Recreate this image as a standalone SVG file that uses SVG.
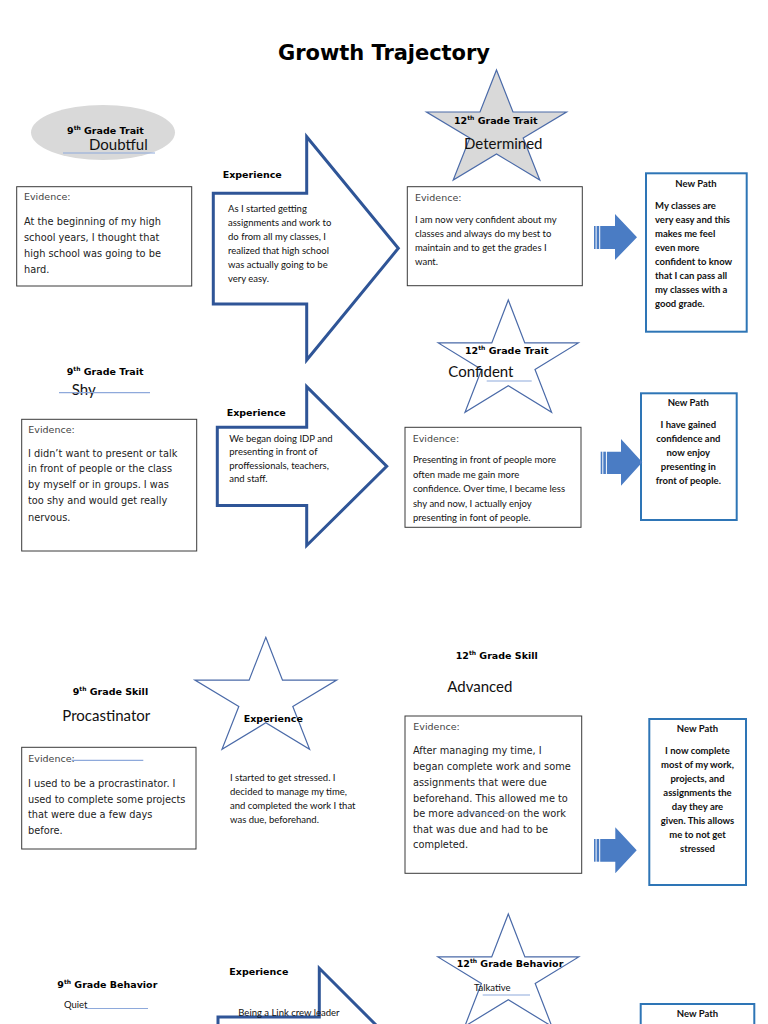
<svg xmlns="http://www.w3.org/2000/svg" width="768" height="1024" viewBox="0 0 768 1024">
<style>
.ev{fill:#fff;stroke:#3a3a3a;stroke-width:1}
.np{fill:#fff;stroke:#2e75b6;stroke-width:2}
.big{fill:#fff;stroke:#2f5597;stroke-width:3;stroke-linejoin:miter}
.star{fill:#fff;stroke:#4a6aa8;stroke-width:1.2;stroke-linejoin:miter}
.sm{fill:#4a7cc4}
.ul{stroke:#8ea9db;stroke-width:1.2;fill:none}
.comic{font-family:"DejaVu Sans",sans-serif;font-size:9.8px;fill:#222}
.evl{font-family:"DejaVu Sans",sans-serif;font-size:9.5px;fill:#444}
.cal{font-family:Lato,"Open Sans",sans-serif;font-size:9.5px;fill:#111}
.calb{font-family:Lato,"Open Sans",sans-serif;font-size:9.5px;font-weight:bold;fill:#111}
.lbl{font-family:"DejaVu Sans",sans-serif;font-size:9.5px;font-weight:bold;fill:#000}
.name{font-family:Lato,"Open Sans",sans-serif;font-size:15px;fill:#111}
.mid{text-anchor:middle}
</style>

<text x="384" y="60" text-anchor="middle" textLength="212" style="font-family:'DejaVu Sans',sans-serif;font-size:21px;font-weight:bold;fill:#000">Growth Trajectory</text>

<!-- Row 1 -->
<g id="trait9-doubtful">
  <ellipse cx="103" cy="132.5" rx="72" ry="27.5" fill="#d9d9d9"/>
  <text class="lbl" x="67" y="134">9<tspan font-size="6" dy="-4">th</tspan><tspan dy="4"> Grade Trait</tspan></text>
  <text class="name" x="89" y="150">Doubtful</text>
  <line class="ul" x1="63" y1="153" x2="155" y2="153"/>
</g>
<g id="evidence-doubtful">
  <rect class="ev" x="16.7" y="186.7" width="175" height="99.3"/>
  <text class="evl" x="24" y="200">Evidence:</text>
  <text class="comic" x="24" y="225">At the beginning of my high</text>
  <text class="comic" x="24" y="240.7">school years, I thought that</text>
  <text class="comic" x="24" y="256.7">high school was going to be</text>
  <text class="comic" x="24" y="272.7">hard.</text>
</g>
<g id="experience-1">
  <path class="big" d="M213.3,193.3 H306.7 V136.7 L398.3,248.3 L306.7,360 V304 H213.3 Z"/>
  <text class="lbl" x="222.7" y="178">Experience</text>
  <text class="cal" x="228" y="211.7">As I started getting</text>
  <text class="cal" x="228" y="225.7">assignments and work to</text>
  <text class="cal" x="228" y="239.7">do from all my classes, I</text>
  <text class="cal" x="228" y="253.7">realized that high school</text>
  <text class="cal" x="228" y="267.7">was actually going to be</text>
  <text class="cal" x="228" y="281.7">very easy.</text>
</g>
<g id="trait12-determined">
  <polygon class="star" style="fill:#d9d9d9" points="496.5,70 513,112 566.5,112 523.2,138 539.8,180 496.5,154 453.2,180 469.8,138 426.5,112 480,112"/>
  <text class="lbl" x="454" y="124">12<tspan font-size="6" dy="-4">th</tspan><tspan dy="4"> Grade Trait</tspan></text>
  <text class="name" x="464" y="149.3">Determined</text>
</g>
<g id="evidence-determined">
  <rect class="ev" x="407.3" y="186.7" width="175" height="99"/>
  <text class="evl" x="415" y="200.7">Evidence:</text>
  <text class="cal" x="415" y="223.3">I am now very confident about my</text>
  <text class="cal" x="415" y="237.3">classes and always do my best to</text>
  <text class="cal" x="415" y="251.3">maintain and to get the grades I</text>
  <text class="cal" x="415" y="265.3">want.</text>
</g>
<g id="newpath-1">
  <rect class="np" x="646" y="173.3" width="100.7" height="158.4"/>
  <text class="calb mid" x="696" y="186.7">New Path</text>
  <text class="calb" x="655" y="209">My classes are</text>
  <text class="calb" x="655" y="223">very easy and this</text>
  <text class="calb" x="655" y="237">makes me feel</text>
  <text class="calb" x="655" y="251">even more</text>
  <text class="calb" x="655" y="265">confident to know</text>
  <text class="calb" x="655" y="279">that I can pass all</text>
  <text class="calb" x="655" y="293">my classes with a</text>
  <text class="calb" x="655" y="307">good grade.</text>
</g>

<!-- Row 2 -->
<g id="trait9-shy">
  <text class="lbl" x="66.7" y="375">9<tspan font-size="6" dy="-4">th</tspan><tspan dy="4"> Grade Trait</tspan></text>
  <text class="name" x="71.7" y="395">Shy</text>
  <line class="ul" x1="59" y1="392.7" x2="150" y2="392.7"/>
</g>
<g id="evidence-shy">
  <rect class="ev" x="21.7" y="419.3" width="175" height="131.7"/>
  <text class="evl" x="28.3" y="433.3">Evidence:</text>
  <text class="comic" x="28" y="456.7">I didn’t want to present or talk</text>
  <text class="comic" x="28" y="472.3">in front of people or the class</text>
  <text class="comic" x="28" y="487.7">by myself or in groups. I was</text>
  <text class="comic" x="28" y="504.3">too shy and would get really</text>
  <text class="comic" x="28" y="521">nervous.</text>
</g>
<g id="experience-2">
  <path class="big" d="M217.3,427.3 H306.7 V386.7 L386.7,466.3 L306.7,545.5 V505.5 H217.3 Z"/>
  <text class="lbl" x="226.7" y="416">Experience</text>
  <text class="cal" x="229.3" y="441.7">We began doing IDP and</text>
  <text class="cal" x="229.3" y="455">presenting in front of</text>
  <text class="cal" x="229.3" y="468.7">proffessionals, teachers,</text>
  <text class="cal" x="229.3" y="482.3">and staff.</text>
</g>
<g id="trait12-confident">
  <polygon class="star" points="508.3,300 524.8,342.9 578.3,342.9 535,369.4 551.6,412.3 508.3,385.8 465,412.3 481.6,369.4 438.3,342.9 491.8,342.9"/>
  <text class="lbl" x="465" y="354.3">12<tspan font-size="6" dy="-4">th</tspan><tspan dy="4"> Grade Trait</tspan></text>
  <text class="name" x="448.3" y="376.7">Confident</text>
  <line class="ul" x1="486.7" y1="381" x2="531.7" y2="381"/>
</g>
<g id="evidence-confident">
  <rect class="ev" x="405" y="427.3" width="176" height="100"/>
  <text class="evl" x="412.7" y="441.7">Evidence:</text>
  <text class="cal" x="413" y="463.3">Presenting in front of people more</text>
  <text class="cal" x="413" y="478.3">often made me gain more</text>
  <text class="cal" x="413" y="492.3">confidence. Over time, I became less</text>
  <text class="cal" x="413" y="507">shy and now, I actually enjoy</text>
  <text class="cal" x="413" y="521">presenting in font of people.</text>
</g>
<g id="newpath-2">
  <rect class="np" x="641" y="393.3" width="95.7" height="126.7"/>
  <text class="calb mid" x="688.3" y="406">New Path</text>
  <text class="calb mid" x="688.3" y="428.3">I have gained</text>
  <text class="calb mid" x="688.3" y="441.7">confidence and</text>
  <text class="calb mid" x="688.3" y="455.7">now enjoy</text>
  <text class="calb mid" x="688.3" y="469.7">presenting in</text>
  <text class="calb mid" x="688.3" y="483.7">front of people.</text>
</g>

<!-- Row 3 -->
<g id="skill9-procastinator">
  <text class="lbl" x="72.7" y="695">9<tspan font-size="6" dy="-4">th</tspan><tspan dy="4"> Grade Skill</tspan></text>
  <text class="name" x="62.3" y="720.7">Procastinator</text>
</g>
<g id="evidence-procastinator">
  <rect class="ev" x="21.7" y="747.3" width="174.3" height="101.7"/>
  <text class="evl" x="28.3" y="762.3">Evidence:</text>
  <line class="ul" x1="71.7" y1="760.3" x2="143.3" y2="760.3"/>
  <text class="comic" x="28" y="786.7">I used to be a procrastinator. I</text>
  <text class="comic" x="28" y="802.7">used to complete some projects</text>
  <text class="comic" x="28" y="817.7">that were due a few days</text>
  <text class="comic" x="28" y="834">before.</text>
</g>
<g id="experience-3">
  <polygon class="star" points="265.8,637.3 282.5,680.1 336.7,680.1 292.8,706.5 309.6,749.3 265.8,722.8 222,749.3 238.8,706.5 194.9,680.1 249.1,680.1"/>
  <text class="lbl mid" x="273.3" y="721.7">Experience</text>
  <text class="cal" x="230" y="781">I started to get stressed. I</text>
  <text class="cal" x="230" y="795">decided to manage my time,</text>
  <text class="cal" x="230" y="809">and completed the work I that</text>
  <text class="cal" x="230" y="823">was due, beforehand.</text>
</g>
<g id="skill12-advanced">
  <text class="lbl" x="455.7" y="659">12<tspan font-size="6" dy="-4">th</tspan><tspan dy="4"> Grade Skill</tspan></text>
  <text class="name" x="447.3" y="691.7">Advanced</text>
</g>
<g id="evidence-advanced">
  <rect class="ev" x="405" y="716" width="176.7" height="157.3"/>
  <text class="evl" x="413.3" y="730">Evidence:</text>
  <text class="comic" x="413" y="754">After managing my time, I</text>
  <text class="comic" x="413" y="770">began complete work and some</text>
  <text class="comic" x="413" y="785.7">assignments that were due</text>
  <text class="comic" x="413" y="801.7">beforehand. This allowed me to</text>
  <text class="comic" x="413" y="817.3">be more advanced on the work</text>
  <line class="ul" x1="456.7" y1="813.3" x2="513" y2="813.3" style="stroke-width:0.8"/>
  <text class="comic" x="413" y="833.3">that was due and had to be</text>
  <text class="comic" x="413" y="848.3">completed.</text>
</g>
<g id="newpath-3">
  <rect class="np" x="649.3" y="719" width="96.7" height="166"/>
  <text class="calb mid" x="697.5" y="731.7">New Path</text>
  <text class="calb mid" x="697.5" y="754.3">I now complete</text>
  <text class="calb mid" x="697.5" y="768.3">most of my work,</text>
  <text class="calb mid" x="697.5" y="782.3">projects, and</text>
  <text class="calb mid" x="697.5" y="796">assignments the</text>
  <text class="calb mid" x="697.5" y="810">day they are</text>
  <text class="calb mid" x="697.5" y="824.3">given. This allows</text>
  <text class="calb mid" x="697.5" y="838.3">me to not get</text>
  <text class="calb mid" x="697.5" y="852.3">stressed</text>
</g>

<!-- Row 4 -->
<g id="behavior9-quiet">
  <text class="lbl" x="57.3" y="988.3">9<tspan font-size="6" dy="-4">th</tspan><tspan dy="4"> Grade Behavior</tspan></text>
  <text class="cal" x="64" y="1008.3">Quiet</text>
  <line class="ul" x1="85" y1="1008.5" x2="148" y2="1008.5"/>
</g>
<g id="experience-4">
  <path class="big" d="M218,1017 H319.3 V968.3 L400,1049 L319.3,1130 V1080 H218 Z"/>
  <text class="lbl" x="229.3" y="975">Experience</text>
  <text class="cal" x="238.3" y="1015.7">Being a Link crew leader</text>
</g>
<g id="behavior12-talkative">
  <polygon class="star" points="508.3,914 524.9,956.9 578.7,956.9 535.2,983.4 551.8,1026.3 508.3,999.8 464.8,1026.3 481.4,983.4 437.9,956.9 491.7,956.9"/>
  <text class="lbl" x="456.7" y="966.7">12<tspan font-size="6" dy="-4">th</tspan><tspan dy="4"> Grade Behavior</tspan></text>
  <text class="cal" x="474" y="990.7">Talkative</text>
  <line class="ul" x1="482.7" y1="995" x2="530" y2="995"/>
</g>
<g id="newpath-4">
  <rect class="np" x="640.7" y="1004" width="113.6" height="40"/>
  <text class="calb mid" x="697.5" y="1017.3">New Path</text>
</g>

<g id="connectors">
  <g id="arrow-1">
    <rect class="sm" x="594" y="226" width="1.6" height="23"/>
    <rect class="sm" x="596.6" y="226" width="2.6" height="23"/>
    <polygon class="sm" points="600.2,226 615,226 615,214 637,237.3 615,260 615,249 600.2,249"/>
  </g>
  <g id="arrow-2">
    <rect class="sm" x="600.7" y="451.7" width="1.6" height="22.3"/>
    <rect class="sm" x="603.3" y="451.7" width="2.6" height="22.3"/>
    <polygon class="sm" points="606.9,451.7 621,451.7 621,439 642.3,462.3 621,485.7 621,474 606.9,474"/>
  </g>
  <g id="arrow-3">
    <rect class="sm" x="594" y="839" width="1.6" height="22.7"/>
    <rect class="sm" x="596.6" y="839" width="2.6" height="22.7"/>
    <polygon class="sm" points="600.2,839 615.3,839 615.3,827.3 636.7,850.3 615.3,873.3 615.3,861.7 600.2,861.7"/>
  </g>
</g>
</svg>
